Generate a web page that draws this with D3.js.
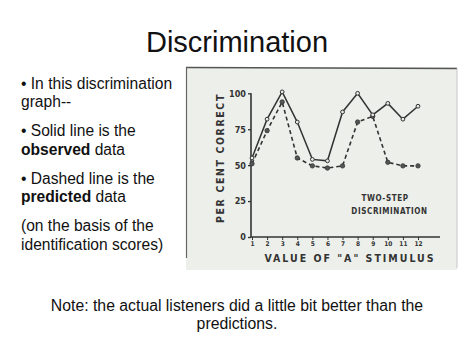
<!DOCTYPE html>
<html><head><meta charset="utf-8">
<script src="https://cdn.jsdelivr.net/npm/d3@7"></script>
<style>
html,body{margin:0;padding:0;background:#fff;}
svg{display:block;}
</style></head>
<body>
<svg id="c" width="474" height="355"></svg>
<script>
const stimulus = [1,2,3,4,5,6,7,8,9,10,11,12];
const observed = [55, 82, 101, 80, 54, 53, 87, 100, 85, 93, 82, 91];
const predicted = [51, 74, 94, 55, 49.5, 48, 49.5, 80, 84, 52, 49.5, 49.5];
const yTicks = [0, 25, 50, 75, 100];
const xTickLabels = ["1","2","3","4","5","6","7","8","9","10","11","12"];
const title = "Discrimination";
const bullets = [
  {lines:[[["• In this discrimination",false]],[["graph--",false]]]},
  {lines:[[["• Solid line is the",false]],[["observed",true],[" data",false]]]},
  {lines:[[["• Dashed line is the",false]],[["predicted",true],[" data",false]]]},
  {lines:[[["(on the basis of the",false]],[["identification scores)",false]]]}
];
const note = ["Note: the actual listeners did a little bit better than the","predictions."];

const svg = d3.select("#c");
const F = "'Liberation Sans', Arial, sans-serif";

svg.append("text").attr("x",237).attr("y",52).attr("text-anchor","middle")
  .attr("font-family",F).attr("font-size",29).attr("fill","#111").text(title);

// bullets
let y = 88.5;
bullets.forEach((b,i)=>{
  if(i>0) y += 29;
  b.lines.forEach((ln,j)=>{
    if(j>0) y += 18.5;
    const t = svg.append("text").attr("x",21).attr("y",y)
      .attr("font-family",F).attr("font-size",15.6).attr("fill","#111");
    ln.forEach(seg=>t.append("tspan").attr("font-weight",seg[1]?"bold":"normal").text(seg[0]));
  });
});

// note
note.forEach((s,i)=>{
  svg.append("text").attr("x",237).attr("y",310.5+i*18.5).attr("text-anchor","middle")
    .attr("font-family",F).attr("font-size",15.8).attr("fill","#111").text(s);
});

// chart image panel
svg.append("rect").attr("x",186).attr("y",67).attr("width",271).attr("height",203).attr("fill","#edefea");
svg.append("line").attr("x1",186).attr("y1",67.5).attr("x2",457).attr("y2",68.5).attr("stroke","#555").attr("stroke-width",1.5);
svg.append("line").attr("x1",186.5).attr("y1",67).attr("x2",186.5).attr("y2",258).attr("stroke","#666").attr("stroke-width",1.2);
svg.append("line").attr("x1",457).attr("y1",68).attr("x2",457).attr("y2",268).attr("stroke","#bbb").attr("stroke-width",0.8);

const x = d3.scaleLinear().domain([1,12]).range([252,418]);
const yS = d3.scaleLinear().domain([0,100]).range([237,93.3]);
const ink = "#333";
const CF = "'DejaVu Sans Condensed','DejaVu Sans', sans-serif";

// y axis
const yAxis = svg.append("g").attr("transform",`translate(${x(1)-1},0)`)
  .call(d3.axisLeft(yS).tickValues(yTicks).tickSize(3).tickPadding(2).tickFormat(d3.format("d")));
yAxis.select(".domain").attr("stroke",ink).attr("stroke-width",1.6).attr("d",`M0,${yS(100)}V${yS(0)}`);
yAxis.selectAll(".tick line").attr("stroke",ink).attr("stroke-width",1.3);
yAxis.selectAll(".tick text").attr("font-family",CF).attr("font-weight","bold").attr("font-size",9).attr("fill",ink);

// x axis
const xAxis = svg.append("g").attr("transform",`translate(0,${yS(0)})`)
  .call(d3.axisBottom(x).tickValues(stimulus).tickSize(3).tickPadding(1).tickFormat((d,i)=>xTickLabels[i]));
xAxis.select(".domain").attr("stroke",ink).attr("stroke-width",1.6).attr("d",`M${x(1)-1},0H440`);
xAxis.selectAll(".tick line").attr("stroke",ink).attr("stroke-width",1);
xAxis.selectAll(".tick text").attr("font-family",CF).attr("font-weight","bold").attr("font-size",6.5).attr("fill",ink);

// axis titles
svg.append("text").attr("transform","translate(224,158) rotate(-90)").attr("text-anchor","middle")
  .attr("font-family",CF).attr("font-weight","bold").attr("font-size",10.5).attr("letter-spacing",1.6)
  .attr("fill",ink).text("PER CENT CORRECT");
svg.append("text").attr("x",350).attr("y",262).attr("text-anchor","middle")
  .attr("font-family",CF).attr("font-weight","bold").attr("font-size",10.5).attr("letter-spacing",2)
  .attr("fill",ink).text('VALUE OF "A" STIMULUS');
svg.append("text").attr("x",385).attr("y",201).attr("text-anchor","middle")
  .attr("font-family",CF).attr("font-weight","bold").attr("font-size",8).attr("letter-spacing",0.6)
  .attr("fill",ink).text("TWO-STEP");
svg.append("text").attr("x",389.5).attr("y",214).attr("text-anchor","middle")
  .attr("font-family",CF).attr("font-weight","bold").attr("font-size",8).attr("letter-spacing",0.6)
  .attr("fill",ink).text("DISCRIMINATION");

const line = d3.line().x((d,i)=>x(stimulus[i])).y(d=>yS(d));
svg.append("path").datum(predicted).attr("d",line).attr("fill","none").attr("stroke",ink)
  .attr("stroke-width",1.6).attr("stroke-dasharray","4,3");
svg.append("path").datum(observed).attr("d",line).attr("fill","none").attr("stroke",ink)
  .attr("stroke-width",1.5);
svg.append("g").selectAll("circle").data(predicted).join("circle")
  .attr("cx",(d,i)=>x(stimulus[i])).attr("cy",d=>yS(d)).attr("r",2.2).attr("fill","#555").attr("stroke",ink).attr("stroke-width",0.8);
svg.append("g").selectAll("circle").data(observed).join("circle")
  .attr("cx",(d,i)=>x(stimulus[i])).attr("cy",d=>yS(d)).attr("r",1.9).attr("fill","#e8e8e4").attr("stroke",ink).attr("stroke-width",1);
</script>
</body></html>
